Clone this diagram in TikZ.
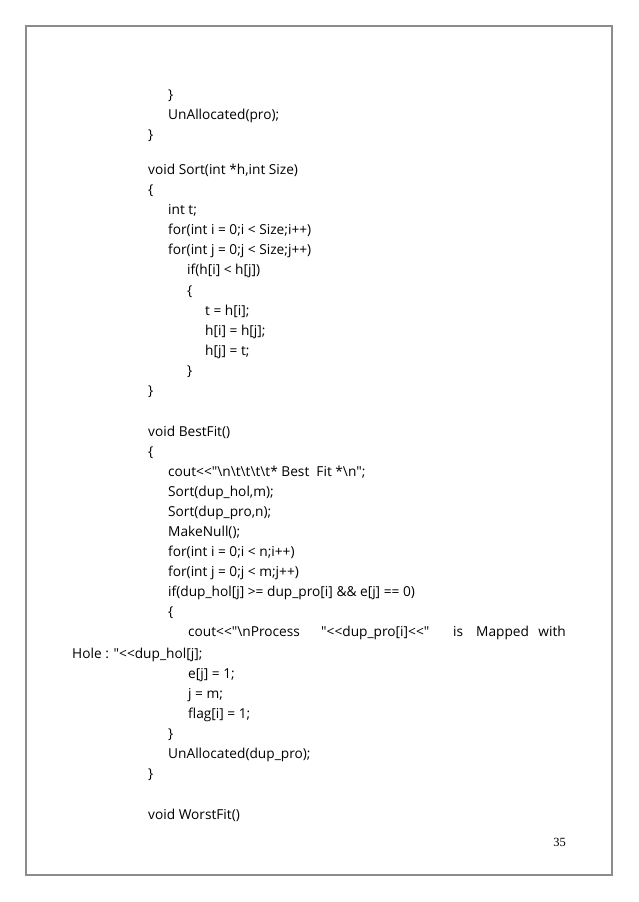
\documentclass[tikz,border=0pt]{standalone}
\usepackage{fontspec}
\setmainfont{Open Sans}[Ligatures=TeXOff]
\newfontfamily\serifpg{Liberation Serif}
\newcommand{\Ln}[4]{\node[code] (#1) at (#2,-#3-4.5) {#4};}
\begin{document}
\begin{tikzpicture}[x=1pt,y=1pt,code/.style={anchor=base west,inner sep=0pt,font=\fontsize{13.7}{15}\selectfont,text=black}]
\useasboundingbox (0,0) rectangle (638,-902);
\fill[white] (0,0) rectangle (638,-902);
\draw[line width=2pt,draw=gray!90] (26,-26) rectangle (612,-875);
\Ln{a1}{168}{95}{\}}
\Ln{a2}{168}{115}{UnAllocated(pro);}
\Ln{a3}{148}{135}{\}}
\Ln{b1}{148}{170}{void Sort(int *h,int Size)}
\Ln{b2}{148}{190}{\{}
\Ln{b3}{168}{210}{int t;}
\Ln{b4}{168}{230}{for(int i = 0;i < Size;i++)}
\Ln{b5}{168}{250}{for(int j = 0;j < Size;j++)}
\Ln{b6}{187}{270}{if(h[i] < h[j])}
\Ln{b7}{187}{291}{\{}
\Ln{b8}{205}{311}{t = h[i];}
\Ln{b9}{205}{331}{h[i] = h[j];}
\Ln{b10}{205}{351}{h[j] = t;}
\Ln{b11}{187}{371}{\}}
\Ln{b12}{148}{391}{\}}
\Ln{c1}{148}{432}{void BestFit()}
\Ln{c2}{148}{452}{\{}
\Ln{c3}{168}{472}{cout<<"\textbackslash n\textbackslash t\textbackslash t\textbackslash t\textbackslash t* Best~ Fit *\textbackslash n";}
\Ln{c4}{168}{492}{Sort(dup\_hol,m);}
\Ln{c5}{168}{512}{Sort(dup\_pro,n);}
\Ln{c6}{168}{532}{MakeNull();}
\Ln{c7}{168}{552}{for(int i = 0;i < n;i++)}
\Ln{c8}{168}{572}{for(int j = 0;j < m;j++)}
\Ln{c9}{168}{592}{if(dup\_hol[j] >= dup\_pro[i] \&\& e[j] == 0)}
\Ln{c10}{168}{612}{\{}
\Ln{c11}{188}{632}{cout<<"\textbackslash nProcess}
\Ln{c12}{321}{632}{"<<dup\_pro[i]<<"}
\Ln{c13}{453}{632}{is}
\Ln{c14}{476}{632}{Mapped}
\node[code,anchor=base east] (c15) at (566,-636.5) {with};
\Ln{c16}{72}{654}{Hole : "<<dup\_hol[j];}
\Ln{c17}{188}{674}{e[j] = 1;}
\Ln{c18}{188}{694}{j = m;}
\Ln{c19}{188}{714}{flag[i] = 1;}
\Ln{c20}{168}{734}{\}}
\Ln{c21}{168}{754}{UnAllocated(dup\_pro);}
\Ln{c22}{148}{774}{\}}
\Ln{d1}{148}{815}{void WorstFit()}
\node[anchor=base east,inner sep=0pt,font=\serifpg\fontsize{12.5}{14}\selectfont] (pg) at (566,-846) {35};
\end{tikzpicture}
\end{document}
